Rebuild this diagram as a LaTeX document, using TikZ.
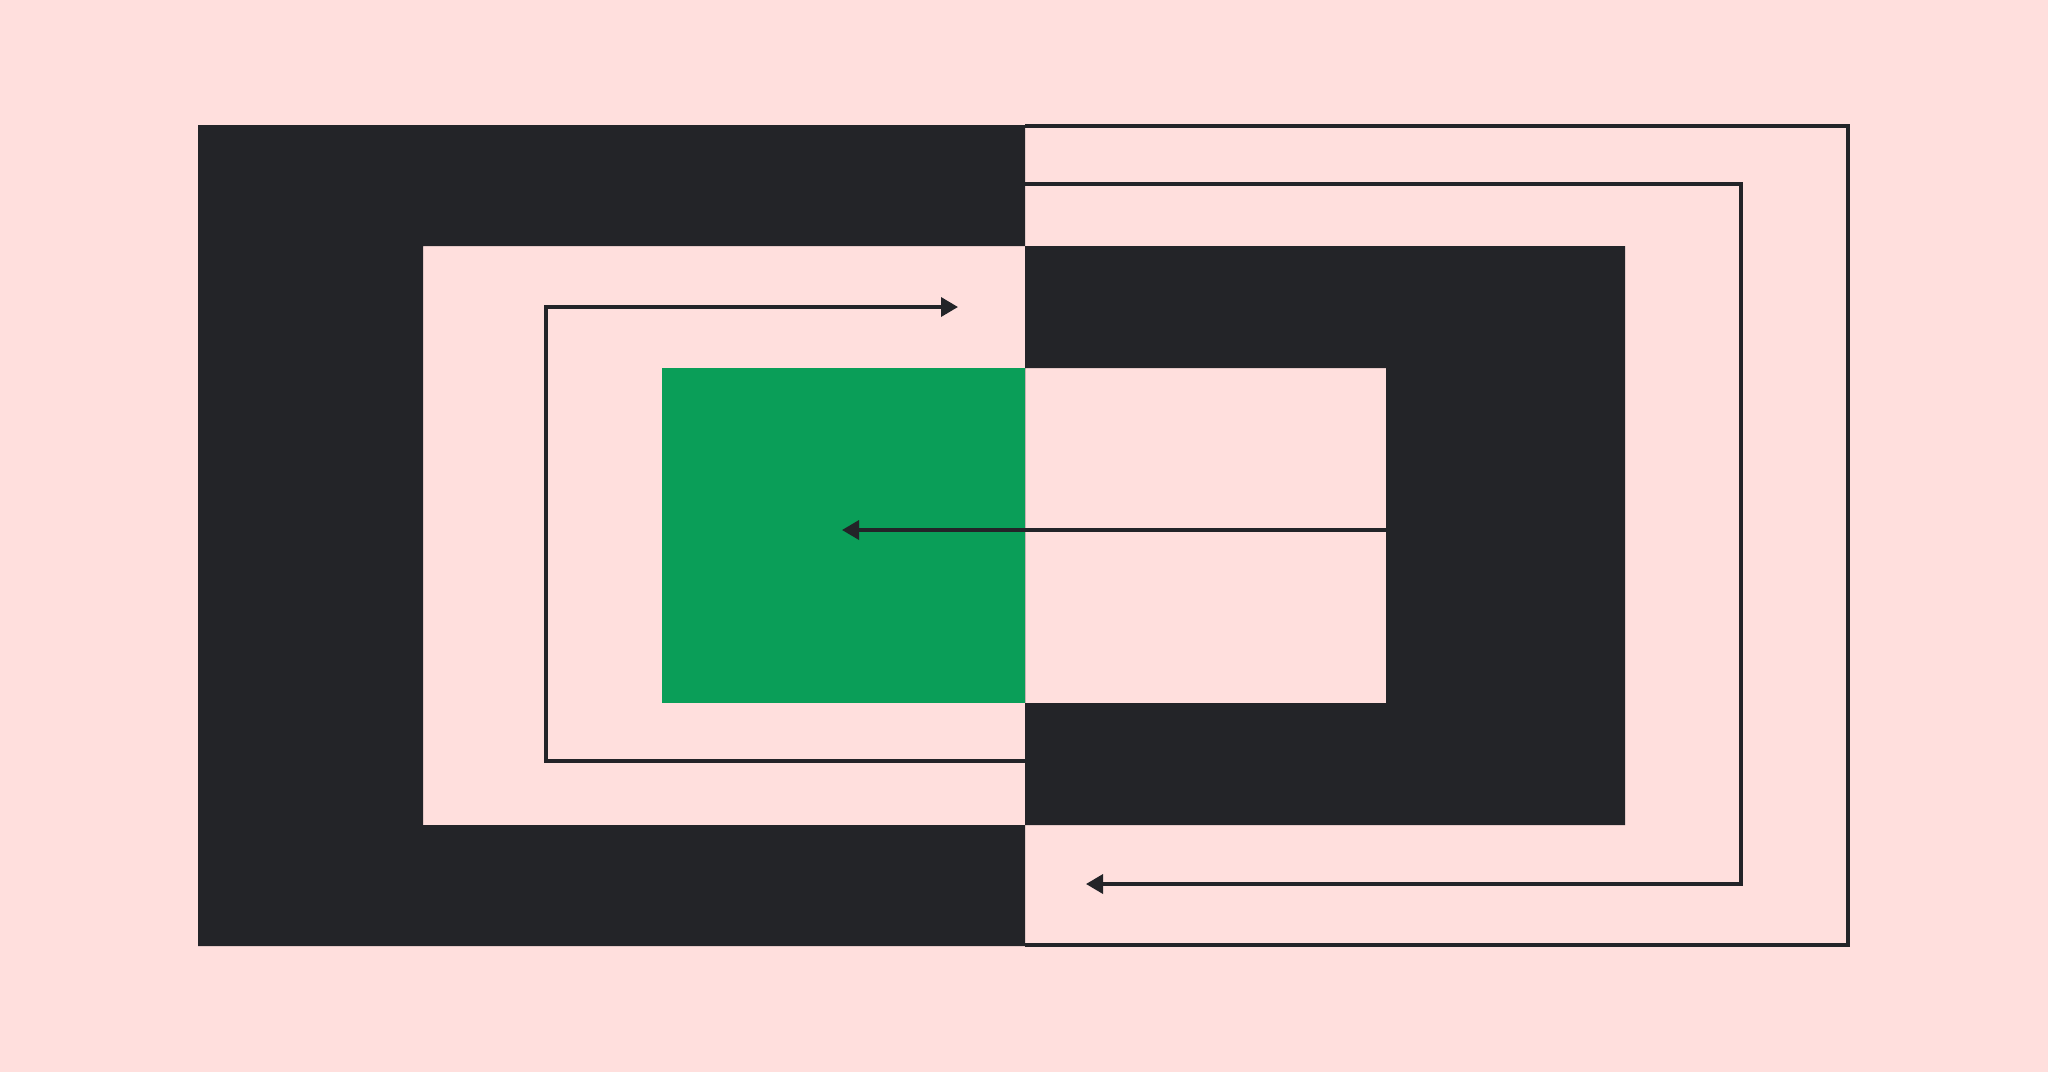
\documentclass[tikz,border=0pt]{standalone}
\usetikzlibrary{arrows.meta}
\definecolor{bgpink}{HTML}{FFDFDD}
\definecolor{darkc}{HTML}{232428}
\definecolor{greenc}{HTML}{0A9E58}
\begin{document}
\begin{tikzpicture}[x=1pt,y=-1pt,
  conn/.style={draw=darkc,line width=3.5pt},
  arr/.style={conn,-{Triangle[length=17pt,width=19pt]}}]
\fill[bgpink] (0,0) rectangle (2048,1072);
\useasboundingbox (0,0) rectangle (2048,1072);
% left C
\fill[darkc,even odd rule] (198,125) rectangle (1025,946) (423,246) rectangle (1025,825);
% green block
\fill[greenc] (662,368) rectangle (1025,703);
% right C
\fill[darkc,even odd rule] (1025,246) rectangle (1625,825) (1025,368) rectangle (1386,703);
% outer outline (open on the left)
\coordinate (o0) at (1025,126);
\coordinate (o1) at (1848,126);
\coordinate (o2) at (1848,945);
\coordinate (o3) at (1025,945);
\draw[conn,line join=miter] (o0) -- (o1) -- (o2) -- (o3);
% paths
\coordinate (a0) at (1025,184);
\coordinate (a1) at (1741,184);
\coordinate (a2) at (1741,884);
\coordinate (a3) at (1086,884);
\draw[arr] (a0) -- (a1) -- (a2) -- (a3);
\coordinate (b0) at (1025,761);
\coordinate (b1) at (546,761);
\coordinate (b2) at (546,307);
\coordinate (b3) at (958,307);
\draw[arr] (b0) -- (b1) -- (b2) -- (b3);
\coordinate (c0) at (1386,530);
\coordinate (c1) at (842,530);
\draw[arr] (c0) -- (c1);
\end{tikzpicture}
\end{document}
